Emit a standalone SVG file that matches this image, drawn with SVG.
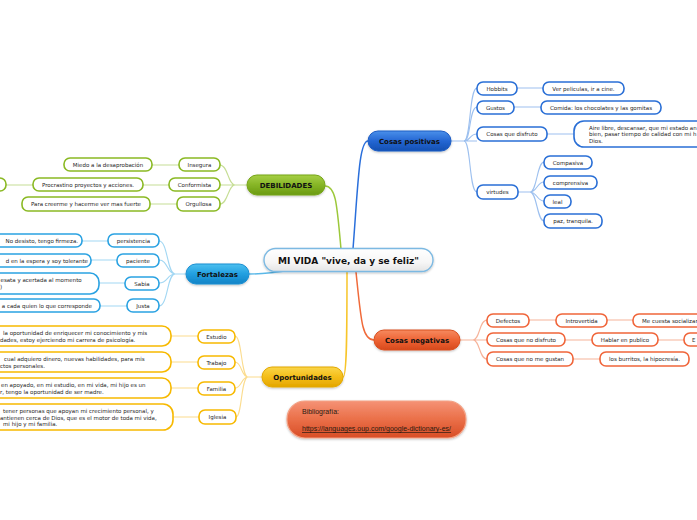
<svg xmlns="http://www.w3.org/2000/svg" width="697" height="520" viewBox="0 0 697 520">
<defs>
<linearGradient id="gBlue" x1="0" y1="0" x2="0" y2="1"><stop offset="0" stop-color="#4a90ea"/><stop offset="0.5" stop-color="#2366d3"/><stop offset="1" stop-color="#1550b2"/></linearGradient>
<linearGradient id="gGreen" x1="0" y1="0" x2="0" y2="1"><stop offset="0" stop-color="#a6cf45"/><stop offset="0.5" stop-color="#86b526"/><stop offset="1" stop-color="#6a9a10"/></linearGradient>
<linearGradient id="gCyan" x1="0" y1="0" x2="0" y2="1"><stop offset="0" stop-color="#4cc0ef"/><stop offset="0.5" stop-color="#229fe0"/><stop offset="1" stop-color="#1283c6"/></linearGradient>
<linearGradient id="gGold" x1="0" y1="0" x2="0" y2="1"><stop offset="0" stop-color="#fad64a"/><stop offset="0.5" stop-color="#f4bd18"/><stop offset="1" stop-color="#e3a500"/></linearGradient>
<linearGradient id="gRed" x1="0" y1="0" x2="0" y2="1"><stop offset="0" stop-color="#f68a60"/><stop offset="0.5" stop-color="#ee6434"/><stop offset="1" stop-color="#d6481c"/></linearGradient>
<linearGradient id="gBib" x1="0" y1="0" x2="0" y2="1"><stop offset="0" stop-color="#f59275"/><stop offset="0.5" stop-color="#ea6f48"/><stop offset="1" stop-color="#d84d26"/></linearGradient>
<linearGradient id="gCenter" x1="0" y1="0" x2="0" y2="1"><stop offset="0" stop-color="#ffffff"/><stop offset="0.6" stop-color="#f6f6f6"/><stop offset="1" stop-color="#e4e4e4"/></linearGradient>
<filter id="sh" x="-10%" y="-20%" width="120%" height="160%"><feDropShadow dx="0" dy="1" stdDeviation="0.8" flood-color="#000" flood-opacity="0.25"/></filter>
</defs>
<style>
text{font-family:"DejaVu Sans",Verdana,sans-serif;}
.s{font-size:5.5px;fill:#262626;}
.c{text-anchor:middle;}
.e{text-anchor:end;}
.m{font-size:7px;font-weight:bold;fill:#111;text-anchor:middle;}
.nb{fill:#fff;stroke:#2a6fd6;stroke-width:1.6;}
.ng{fill:#fff;stroke:#8ab923;stroke-width:1.6;}
.nc{fill:#fff;stroke:#2aa2e2;stroke-width:1.6;}
.ny{fill:#fff;stroke:#f7b900;stroke-width:1.6;}
.nr{fill:#fff;stroke:#f0653a;stroke-width:1.6;}
.lb{fill:none;stroke:#9dc0ef;stroke-width:1.1;}
.lg{fill:none;stroke:#c6de95;stroke-width:1.1;}
.lc{fill:none;stroke:#a2d7f3;stroke-width:1.1;}
.ly{fill:none;stroke:#fbdc8e;stroke-width:1.1;}
.lr{fill:none;stroke:#f6b39a;stroke-width:1.1;}
.bib{font-family:"Liberation Sans",Arial,sans-serif;font-size:7px;fill:#2a1a10;}
</style>

<g id="connectors">
<path d="M341,249 C337,205 336,186 325,186" fill="none" stroke="#9cc83a" stroke-width="1.5"/>
<path d="M353,249 C358,185 359,141 368,141" fill="none" stroke="#2a6fdb" stroke-width="1.5"/>
<path d="M292,270 C272,273 262,274 249,274" fill="none" stroke="#5ab8e8" stroke-width="1.5"/>
<path d="M347,272 C347,330 347,377 343,377" fill="none" stroke="#f7c52a" stroke-width="1.5"/>
<path d="M356,272 C361,320 362,340 374,340" fill="none" stroke="#f06a3a" stroke-width="1.5"/>
<path class="lb" d="M451,141 L464,141 C471,141 469,88 477,88"/>
<path class="lb" d="M464,141 C471,141 469,107 477,107"/>
<path class="lb" d="M464,141 L477,141 M464,141 C471,141 469,134 477,134"/>
<path class="lb" d="M464,141 C471,141 469,192 477,192"/>
<path class="lb" d="M517,88 L543,88 M514,107 L541,107 M547,134 L574,134"/>
<path class="lb" d="M518,192 L530,192 C537,192 537,162 544,162 M530,192 C537,192 537,182 544,182 M530,192 C537,192 537,201 544,201 M530,192 C537,192 537,221 544,221"/>
<path class="lg" d="M247,185 L235,185 C228,185 228,165 220,165 M235,185 L220,185 M235,185 C228,185 228,204 220,204"/>
<path class="lg" d="M179,165 L152,165 M169,185 L143,185 M33,185 L6,185 M177,204 L150,204"/>
<path class="lc" d="M186,274 L175,274 C167,274 168,241 159,241 M175,274 C167,274 168,260 159,260 M175,274 C167,274 168,283 159,283 M175,274 C167,274 168,306 159,306"/>
<path class="lc" d="M108,241 L82,241 M117,260 L91,260 M125,283 L99,283 M127,306 L100,306"/>
<path class="ly" d="M262,377 L248,377 C241,377 242,336 235,336 M248,377 C241,377 242,362 235,362 M248,377 C241,377 242,388 235,388 M248,377 C241,377 242,417 236,417"/>
<path class="ly" d="M198,336 L171,336 M198,362 L171,362 M198,388 L171,388 M199,417 L173,417"/>
<path class="lr" d="M460,340 L473,340 C480,340 479,320 487,320 M473,340 L487,340 M473,340 C480,340 479,359 487,359"/>
<path class="lr" d="M529,320 L556,320 M607,320 L633,320 M565,340 L592,340 M658,340 L684,340 M573,359 L600,359"/>
</g>

<g id="center"><rect x="264" y="248.5" width="169" height="23" rx="11.5" fill="url(#gCenter)" stroke="#7cb9e2" stroke-width="1.4" filter="url(#sh)"/><text x="348.5" y="263.5" text-anchor="middle" font-size="9" font-weight="bold" fill="#111">MI VIDA "vive, da y se feliz"</text></g>

<g id="cosas-positivas"><rect x="368" y="131" width="83" height="20" rx="10" fill="url(#gBlue)" stroke="#1c5cc4" filter="url(#sh)"/><text class="m" x="409.5" y="143.5">Cosas positivas</text></g>
<g id="hobbits"><rect class="nb" x="477" y="82" width="40" height="13" rx="6"/><text class="s c" x="497" y="90.5">Hobbits</text></g>
<g id="ver-peliculas"><rect class="nb" x="543" y="82" width="81" height="13" rx="6"/><text class="s c" x="583.5" y="90.5">Ver peliculas, ir a cine.</text></g>
<g id="gustos"><rect class="nb" x="477" y="101" width="37" height="13" rx="6"/><text class="s c" x="495.5" y="109.5">Gustos</text></g>
<g id="comida"><rect class="nb" x="541" y="101" width="120" height="13" rx="6"/><text class="s c" x="601" y="109.5">Comida: los chocolates y las gomitas</text></g>
<g id="cosas-disfruto"><rect class="nb" x="477" y="127" width="70" height="14" rx="6"/><text class="s c" x="512" y="136">Cosas que disfruto</text></g>
<g id="aire-libre"><rect class="nb" x="574" y="121" width="150" height="26" rx="10"/><text class="s" x="589" y="129.5">Aire libre, descansar, que mi estado an</text><text class="s" x="589" y="136">bien, pasar tiempo de calidad con mi h</text><text class="s" x="589" y="142.5">Dios.</text></g>
<g id="virtudes"><rect class="nb" x="477" y="185" width="41" height="14" rx="6"/><text class="s c" x="497.5" y="194">virtudes</text></g>
<g id="compasiva"><rect class="nb" x="544" y="156" width="48" height="13" rx="6"/><text class="s c" x="568" y="164.5">Compasiva</text></g>
<g id="comprensiva"><rect class="nb" x="544" y="176" width="53" height="13" rx="6"/><text class="s c" x="570.5" y="184.5">comprensiva</text></g>
<g id="leal"><rect class="nb" x="544" y="195" width="27" height="13" rx="6"/><text class="s c" x="557.5" y="203.5">leal</text></g>
<g id="paz"><rect class="nb" x="544" y="214" width="58" height="14" rx="6"/><text class="s c" x="573" y="223">paz, tranquila.</text></g>

<g id="debilidades"><rect x="247" y="175" width="78" height="20" rx="10" fill="url(#gGreen)" stroke="#76a516" filter="url(#sh)"/><text class="m" x="286" y="187.5">DEBILIDADES</text></g>
<g id="insegura"><rect class="ng" x="179" y="158" width="41" height="13" rx="6"/><text class="s c" x="199.5" y="166.5">Insegura</text></g>
<g id="miedo"><rect class="ng" x="64" y="158" width="88" height="13" rx="6"/><text class="s c" x="108" y="166.5">Miedo a la desaprobación</text></g>
<g id="conformista"><rect class="ng" x="169" y="178" width="51" height="13" rx="6"/><text class="s c" x="194.5" y="186.5">Conformista</text></g>
<g id="procrastino"><rect class="ng" x="33" y="178" width="110" height="13" rx="6"/><text class="s c" x="88" y="186.5">Procrastino proyectos y acciones.</text></g>
<g id="conformista-extra"><rect class="ng" x="-30" y="178" width="36" height="13" rx="6"/></g>
<g id="orgullosa"><rect class="ng" x="177" y="197" width="43" height="14" rx="6"/><text class="s c" x="198.5" y="206">Orgullosa</text></g>
<g id="para-creerme"><rect class="ng" x="22" y="197" width="128" height="14" rx="6"/><text class="s c" x="86" y="206">Para creerme y hacerme ver mas fuerte</text></g>

<g id="fortalezas"><rect x="186" y="264" width="63" height="20" rx="10" fill="url(#gCyan)" stroke="#1a8fd2" filter="url(#sh)"/><text class="m" x="217.5" y="276.5">Fortalezas</text></g>
<g id="persistencia"><rect class="nc" x="108" y="234" width="51" height="13" rx="6"/><text class="s c" x="133.5" y="242.5">persistencia</text></g>
<g id="no-desisto"><rect class="nc" x="-30" y="234" width="112" height="13" rx="6"/><text class="s e" x="78" y="242.5">No desisto, tengo firmeza.</text></g>
<g id="paciente"><rect class="nc" x="117" y="254" width="42" height="13" rx="6"/><text class="s c" x="138" y="262.5">paciente</text></g>
<g id="espera"><rect class="nc" x="-30" y="254" width="121" height="13" rx="6"/><text class="s e" x="88" y="262.5">d en la espera y soy tolerante</text></g>
<g id="sabia"><rect class="nc" x="125" y="277" width="34" height="13" rx="6"/><text class="s c" x="142" y="285.5">Sabia</text></g>
<g id="sabia-text"><rect class="nc" x="-40" y="273" width="139" height="21" rx="9"/><text class="s" x="0.5" y="282">esata y acertada al momento</text><text class="s" x="0" y="288.5">)</text></g>
<g id="justa"><rect class="nc" x="127" y="299" width="32" height="13" rx="6"/><text class="s c" x="143" y="307.5">Justa</text></g>
<g id="justa-text"><rect class="nc" x="-30" y="299" width="130" height="13" rx="6"/><text class="s e" x="92" y="307.5">a cada quien lo que corresponde</text></g>

<g id="oportunidades"><rect x="262" y="367" width="81" height="20" rx="10" fill="url(#gGold)" stroke="#e3a800" filter="url(#sh)"/><text class="m" x="302.5" y="379.5">Oportunidades</text></g>
<g id="estudio"><rect class="ny" x="198" y="330" width="37" height="13" rx="6"/><text class="s c" x="216.5" y="338.5">Estudio</text></g>
<g id="estudio-text"><rect class="ny" x="-40" y="326" width="211" height="20" rx="9"/><text class="s" x="3" y="335">la oportunidad de enriquecer mi conocimiento y mis</text><text class="s" x="0" y="341.5">dades, estoy ejerciendo mi carrera de psicología.</text></g>
<g id="trabajo"><rect class="ny" x="198" y="356" width="37" height="13" rx="6"/><text class="s c" x="216.5" y="364.5">Trabajo</text></g>
<g id="trabajo-text"><rect class="ny" x="-40" y="352" width="211" height="20" rx="9"/><text class="s" x="4" y="361">cual adquiero dinero, nuevas habilidades, para mis</text><text class="s" x="0" y="367.5">ctos personales.</text></g>
<g id="familia"><rect class="ny" x="198" y="382" width="37" height="13" rx="6"/><text class="s c" x="216.5" y="390.5">Familia</text></g>
<g id="familia-text"><rect class="ny" x="-40" y="378" width="211" height="20" rx="9"/><text class="s" x="1" y="387">en apoyado, en mi estudio, en mi vida, mi hijo es un</text><text class="s" x="0" y="393.5">r, tengo la oportunidad de ser madre.</text></g>
<g id="iglesia"><rect class="ny" x="199" y="410" width="37" height="14" rx="6"/><text class="s c" x="217.5" y="419">Iglesia</text></g>
<g id="iglesia-text"><rect class="ny" x="-40" y="404" width="213" height="26" rx="10"/><text class="s" x="3" y="413">tener personas que apoyan mi crecimiento personal, y</text><text class="s" x="0" y="419.5">antienen cerca de Dios, que es el motor de toda mi vida,</text><text class="s" x="3" y="426">mi hijo y mi familia.</text></g>

<g id="cosas-negativas"><rect x="374" y="330" width="86" height="20" rx="10" fill="url(#gRed)" stroke="#d9501f" filter="url(#sh)"/><text class="m" x="417" y="342.5">Cosas negativas</text></g>
<g id="defectos"><rect class="nr" x="487" y="314" width="42" height="13" rx="6"/><text class="s c" x="508" y="322.5">Defectos</text></g>
<g id="introvertida"><rect class="nr" x="556" y="314" width="51" height="13" rx="6"/><text class="s c" x="581.5" y="322.5">Introvertida</text></g>
<g id="socializar"><rect class="nr" x="633" y="314" width="80" height="13" rx="6"/><text class="s" x="642" y="322.5">Me cuesta socializar</text></g>
<g id="no-disfruto"><rect class="nr" x="487" y="333" width="78" height="13" rx="6"/><text class="s c" x="526" y="341.5">Cosas que no disfruto</text></g>
<g id="hablar"><rect class="nr" x="592" y="333" width="66" height="13" rx="6"/><text class="s c" x="625" y="341.5">Hablar en publico</text></g>
<g id="hablar-extra"><rect class="nr" x="684" y="333" width="30" height="13" rx="6"/><text class="s" x="692" y="341.5">E</text></g>
<g id="no-gustan"><rect class="nr" x="487" y="352" width="86" height="14" rx="6"/><text class="s c" x="530" y="361">Cosas que no me gustan</text></g>
<g id="burritos"><rect class="nr" x="600" y="352" width="89" height="14" rx="6"/><text class="s c" x="644.5" y="361">los burritos, la hipocresía.</text></g>

<g id="bibliografia"><rect x="287" y="401" width="179" height="37" rx="18" fill="url(#gBib)" stroke="#f3a286" stroke-width="1.2" filter="url(#sh)"/><text class="bib" x="302" y="413.5">Bibliografía:</text><text class="bib" x="302" y="431" text-decoration="underline">https://languages.oup.com/google-dictionary-es/</text></g>
</svg>
